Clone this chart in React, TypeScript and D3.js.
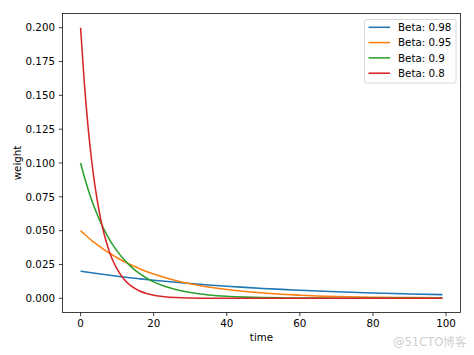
import React from "react";
import * as d3 from "d3";

const times = [0, 1, 2, 3, 4, 5, 6, 7, 8, 9, 10, 12, 14, 16, 18, 20, 23, 26, 30, 35, 40, 45, 50, 55, 60, 70, 80, 90, 99];
const beta098 = [0.02, 0.0196, 0.019208, 0.018824, 0.018447, 0.018078, 0.017717, 0.017363, 0.017015, 0.016675, 0.016341, 0.015694, 0.015072, 0.014475, 0.013902, 0.013352, 0.012567, 0.011828, 0.010909, 0.009862, 0.008915, 0.008058, 0.007284, 0.006584, 0.005952, 0.004863, 0.003974, 0.003247, 0.002707];
const beta095 = [0.05, 0.0475, 0.045125, 0.042869, 0.040725, 0.038689, 0.036755, 0.034917, 0.033171, 0.031512, 0.029937, 0.027018, 0.024384, 0.022006, 0.019861, 0.017924, 0.015368, 0.013176, 0.010732, 0.008304, 0.006425, 0.004972, 0.003847, 0.002977, 0.002303, 0.001379, 0.000826, 0.000494, 0.000312];
const beta09 = [0.1, 0.09, 0.081, 0.0729, 0.06561, 0.059049, 0.053144, 0.04783, 0.043047, 0.038742, 0.034868, 0.028243, 0.022877, 0.01853, 0.015009, 0.012158, 0.008863, 0.006461, 0.004239, 0.002503, 0.001478, 0.000873, 0.000515, 0.000304, 0.00018, 0.0000626, 0.0000218, 0.0000076, 0.000003];
const beta08 = [0.2, 0.16, 0.128, 0.1024, 0.08192, 0.065536, 0.052429, 0.041943, 0.033554, 0.026844, 0.021475, 0.013744, 0.008796, 0.005629, 0.003603, 0.002306, 0.001181, 0.000604, 0.000248, 0.000081, 0.000027, 0.000009, 0.000003, 0.000001, 0, 0, 0, 0, 0];

const seriesNames = ["Beta: 0.98", "Beta: 0.95", "Beta: 0.9", "Beta: 0.8"];
const seriesValues = [beta098, beta095, beta09, beta08];
const colors = ["#1f77b4", "#ff7f0e", "#2ca02c", "#d62728"];
const xTicks = [0, 20, 40, 60, 80, 100];
const yTicks = [0, 0.025, 0.05, 0.075, 0.1, 0.125, 0.15, 0.175, 0.2];

const W = 474, H = 355;
const L = 62.5, R = 460.5, T = 13.5, B = 312.5;
const font = "'DejaVu Sans', sans-serif";
const fs = 10.3;

export default function App() {
  const x = d3.scaleLinear().domain([-4.95, 103.95]).range([L, R]);
  const y = d3.scaleLinear().domain([-0.0105, 0.2105]).range([B, T]);
  const line = d3
    .line<[number, number]>()
    .x((d) => x(d[0]))
    .y((d) => y(d[1]))
    .curve(d3.curveMonotoneX);

  return (
    <svg width={W} height={H} style={{ position: "absolute", left: 0, top: 0, background: "#fff" }}>
      <rect x={0} y={0} width={W} height={H} fill="#fff" />
      {seriesValues.map((vals, i) => (
        <path
          key={i}
          d={line(times.map((t, j) => [t, vals[j]] as [number, number])) || ""}
          fill="none"
          stroke={colors[i]}
          strokeWidth={1.55}
        />
      ))}
      <rect x={L} y={T} width={R - L} height={B - T} fill="none" stroke="#000" strokeWidth={0.75} />
      {xTicks.map((t) => (
        <g key={t}>
          <line x1={x(t)} x2={x(t)} y1={B} y2={B + 3.6} stroke="#000" strokeWidth={0.75} />
          <text x={x(t)} y={327} textAnchor="middle" fontFamily={font} fontSize={fs} fill="#000">
            {t}
          </text>
        </g>
      ))}
      {yTicks.map((t) => (
        <g key={t}>
          <line x1={L - 3.6} x2={L} y1={y(t)} y2={y(t)} stroke="#000" strokeWidth={0.75} />
          <text x={55} y={y(t) + 3.7} textAnchor="end" fontFamily={font} fontSize={fs} fill="#000">
            {t.toFixed(3)}
          </text>
        </g>
      ))}
      <text x={(L + R) / 2} y={341} textAnchor="middle" fontFamily={font} fontSize={fs} fill="#000">
        time
      </text>
      <text
        transform={`translate(20.8, ${(T + B) / 2}) rotate(-90)`}
        textAnchor="middle"
        fontFamily={font}
        fontSize={fs}
        fill="#000"
      >
        weight
      </text>
      <rect x={364.5} y={19.5} width={91.5} height={63.5} rx={2} fill="#fff" fillOpacity={0.8} stroke="#cccccc" strokeWidth={0.75} />
      {seriesNames.map((n, i) => {
        const cy = 27.3 + i * 15.3;
        return (
          <g key={n}>
            <line x1={368.5} x2={390} y1={cy} y2={cy} stroke={colors[i]} strokeWidth={1.55} />
            <text x={398} y={cy + 3.7} fontFamily={font} fontSize={fs} fill="#000">
              {n}
            </text>
          </g>
        );
      })}
      <text x={393} y={345.5} fontFamily={font} fontSize={11.5} fill="#cfcfcf">
        @51CTO博客
      </text>
    </svg>
  );
}
